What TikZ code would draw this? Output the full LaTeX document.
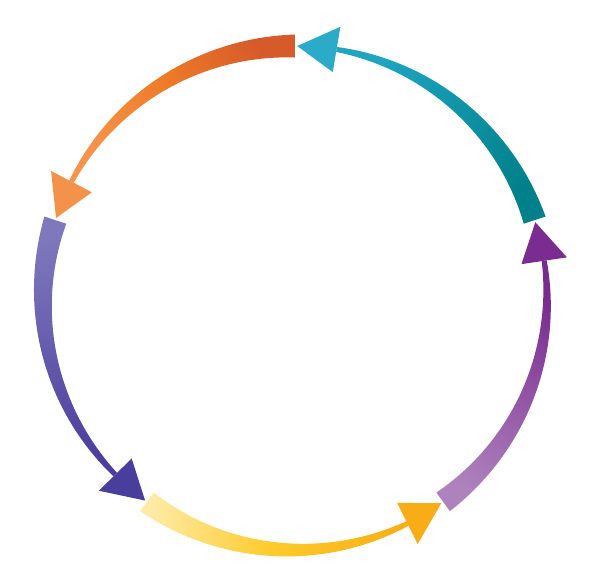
\documentclass[tikz,border=0pt]{standalone}
\definecolor{tealA}{HTML}{00808A}
\definecolor{tealB}{HTML}{1FA5C2}
\definecolor{tealHead}{HTML}{2BABC8}
\definecolor{orangeA}{HTML}{D65A2A}
\definecolor{orangeM}{HTML}{EE7B28}
\definecolor{orangeB}{HTML}{F4944D}
\definecolor{orangeHead}{HTML}{F4914B}
\definecolor{blueA}{HTML}{7F78BC}
\definecolor{blueB}{HTML}{4B3E9E}
\definecolor{blueHead}{HTML}{4A3E9C}
\definecolor{yellowA}{HTML}{FEEBA8}
\definecolor{yellowM}{HTML}{FDCB2A}
\definecolor{yellowB}{HTML}{F9AE16}
\definecolor{yellowHead}{HTML}{F8AD17}
\definecolor{purpleA}{HTML}{AE82BC}
\definecolor{purpleB}{HTML}{782A8E}
\definecolor{purpleHead}{HTML}{7A2C91}
\begin{document}
\begin{tikzpicture}[x=0.02cm, y=0.02cm,
	shaft/.style n args={3}{bottom color=#1, top color=#2, shading angle=#3}]
			\useasboundingbox (-295, -290) rectangle (305, 298); %600 x 588 frame, circle center at origin
			
			%teal arrow from the right up to the top
			\shade [shaft={tealA}{tealB}{49}] plot[domain=18:80.5, samples=40] (\x:{252+11.5-9*(\x-18)/62.5}) -- plot[domain=80.5:18, samples=40] (\x:{252-11.5+9*(\x-18)/62.5}) -- cycle;
			\fill [tealHead] (80.5:275) -- (89.5:252) -- (80.5:229) -- cycle;
			
			%orange arrow from the top down to the left
			\shade [shaft={orangeA}{orangeB}{121}, middle color=orangeM] plot[domain=90:152.5, samples=40] (\x:{252+11.5-9*(\x-90)/62.5}) -- plot[domain=152.5:90, samples=40] (\x:{252-11.5+9*(\x-90)/62.5}) -- cycle;
			\fill [orangeHead] (152.5:275) -- (161.5:252) -- (152.5:229) -- cycle;
			
			%blue arrow down the left side
			\shade [shaft={blueA}{blueB}{193}] plot[domain=162:224.5, samples=40] (\x:{252+11.5-9*(\x-162)/62.5}) -- plot[domain=224.5:162, samples=40] (\x:{252-11.5+9*(\x-162)/62.5}) -- cycle;
			\fill [blueHead] (224.5:275) -- (233.5:252) -- (224.5:229) -- cycle;
			
			%yellow arrow along the bottom
			\shade [shaft={yellowA}{yellowB}{265}, middle color=yellowM] plot[domain=234:296.5, samples=40] (\x:{252+11.5-9*(\x-234)/62.5}) -- plot[domain=296.5:234, samples=40] (\x:{252-11.5+9*(\x-234)/62.5}) -- cycle;
			\fill [yellowHead] (296.5:275) -- (305.5:252) -- (296.5:229) -- cycle;
			
			%purple arrow up the right side
			\shade [shaft={purpleA}{purpleB}{337}] plot[domain=306:368.5, samples=40] (\x:{252+11.5-9*(\x-306)/62.5}) -- plot[domain=368.5:306, samples=40] (\x:{252-11.5+9*(\x-306)/62.5}) -- cycle;
			\fill [purpleHead] (368.5:275) -- (377.5:252) -- (368.5:229) -- cycle;
		\end{tikzpicture}
\end{document}
